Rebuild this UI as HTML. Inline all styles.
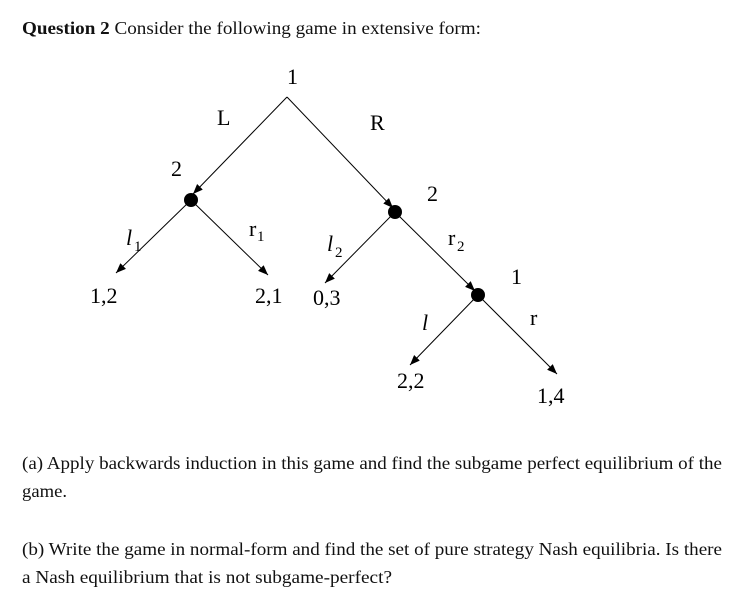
<!DOCTYPE html>
<html><head><meta charset="utf-8"><style>
html,body{margin:0;padding:0;background:#fff;}
svg{display:block;}
</style></head><body>
<svg width="731" height="603" viewBox="0 0 731 603" xmlns="http://www.w3.org/2000/svg">
<defs>
<marker id="a" viewBox="0 0 10 8" refX="10" refY="4" markerWidth="10" markerHeight="8" markerUnits="userSpaceOnUse" orient="auto">
<path d="M0,0 L10,4 L0,8 Z" fill="#000"/>
</marker>
</defs>
<g font-family="Liberation Serif, serif" fill="#111" font-size="18">
<text x="22" y="34" textLength="459" lengthAdjust="spacingAndGlyphs"><tspan font-weight="bold">Question 2</tspan> Consider the following game in extensive form:</text>
<text x="22" y="469" textLength="700" lengthAdjust="spacingAndGlyphs">(a) Apply backwards induction in this game and find the subgame perfect equilibrium of the</text>
<text x="22" y="497" textLength="45" lengthAdjust="spacingAndGlyphs">game.</text>
<text x="22" y="555" textLength="700" lengthAdjust="spacingAndGlyphs">(b) Write the game in normal-form and find the set of pure strategy Nash equilibria. Is there</text>
<text x="22" y="583" textLength="370" lengthAdjust="spacingAndGlyphs">a Nash equilibrium that is not subgame-perfect?</text>
</g>
<g stroke="#000" stroke-width="1" fill="none">
<line x1="287" y1="97" x2="193" y2="194" marker-end="url(#a)"/>
<line x1="287" y1="97" x2="393" y2="208" marker-end="url(#a)"/>
<line x1="191" y1="200" x2="116" y2="273" marker-end="url(#a)"/>
<line x1="191" y1="200" x2="268" y2="275" marker-end="url(#a)"/>
<line x1="395" y1="212" x2="325" y2="283" marker-end="url(#a)"/>
<line x1="395" y1="212" x2="475" y2="291" marker-end="url(#a)"/>
<line x1="478" y1="295" x2="410" y2="365" marker-end="url(#a)"/>
<line x1="478" y1="295" x2="557" y2="374" marker-end="url(#a)"/>
</g>
<g fill="#000">
<circle cx="191" cy="200" r="7"/>
<circle cx="395" cy="212" r="7"/>
<circle cx="478" cy="295" r="7"/>
</g>
<g font-family="Liberation Serif, serif" fill="#000" font-size="22">
<text x="287" y="84">1</text>
<text x="217" y="125">L</text>
<text x="370" y="130">R</text>
<text x="171" y="176">2</text>
<text x="427" y="201">2</text>
<text x="511" y="284">1</text>
<text x="126" y="245" font-style="italic">l</text><text x="134" y="251" font-size="15">1</text>
<text x="249" y="236">r</text><text x="257" y="241" font-size="15">1</text>
<text x="327" y="251" font-style="italic">l</text><text x="335" y="257" font-size="15">2</text>
<text x="448" y="245">r</text><text x="457" y="251" font-size="15">2</text>
<text x="422" y="330" font-style="italic">l</text>
<text x="530" y="325">r</text>
<text x="90" y="303">1,2</text>
<text x="255" y="303">2,1</text>
<text x="313" y="305">0,3</text>
<text x="397" y="388">2,2</text>
<text x="537" y="403">1,4</text>
</g>
</svg>
</body></html>
